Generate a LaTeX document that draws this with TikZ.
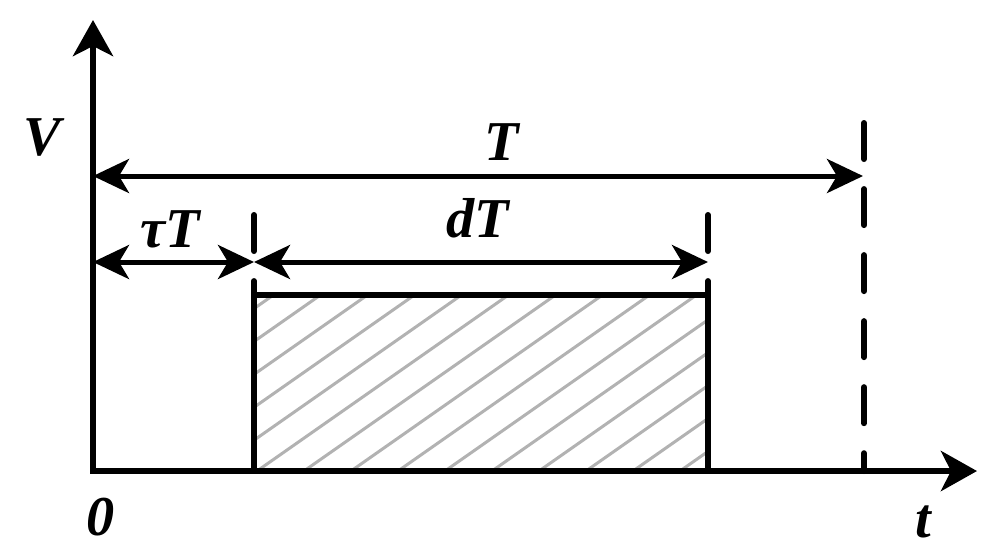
\documentclass[tikz,border=0pt]{standalone}
\usepackage{fontspec}
\setmainfont{Liberation Serif}
\usetikzlibrary{arrows.meta}

\begin{document}
\begin{tikzpicture}[x=0.01cm,y=-0.01cm,
  axis/.style={line width=0.06cm,{Stealth[length=0.36cm,width=0.4cm,inset=0.1cm]}-{Stealth[length=0.36cm,width=0.4cm,inset=0.1cm]}},
  dim/.style={line width=0.05cm,{Stealth[length=0.36cm,width=0.34cm,inset=0.1cm]}-{Stealth[length=0.36cm,width=0.34cm,inset=0.1cm]}},
  guide/.style={line width=0.06cm,line cap=round,dash pattern=on 0.36cm off 0.30cm},
  pulse/.style={line width=0.06cm},
  hatch/.style={line width=0.03cm,gray!60},
  lbl/.style={font=\fontsize{16}{18}\selectfont\bfseries\itshape,anchor=base,inner sep=0pt}]

\useasboundingbox (0,0) rectangle (1000,556);

% axes
\coordinate (origin) at (93,471);
\coordinate (ytop) at (93,20);
\coordinate (xend) at (977,471);
% pulse corners
\coordinate (rise) at (254,471);
\coordinate (risetop) at (254,295);
\coordinate (fall) at (708,471);
\coordinate (falltop) at (708,295);
% period mark
\coordinate (pertop) at (864,123);
\coordinate (perbot) at (864,471);

% hatched pulse
\begin{scope}
  \clip (rise) rectangle (falltop);
  \foreach \s in {22,69,...,720}
    \draw[hatch] (\s,471) -- ++(250,-175);
\end{scope}
\draw[pulse] (rise) -- (risetop) -- (falltop) -- (fall);

% dashed guides
\draw[guide] (254,215) -- (risetop);
\draw[guide] (708,215) -- (falltop);
\draw[guide] (pertop) -- (perbot);

\draw[axis] (ytop) -- (origin) -- (xend);

% dimension arrows
\coordinate (yT) at (93,176);
\coordinate (perT) at (863,176);
\coordinate (ytau) at (93,262);
\coordinate (mid) at (254,262);
\coordinate (enddT) at (708,262);
\draw[dim] (yT) -- (perT);
\draw[dim] (ytau) -- (mid);
\draw[dim] (mid) -- (enddT);

% labels
\node[lbl] (vlab) at (42,155) {V};
\node[lbl] (Tlab) at (502,160) {T};
\node[lbl] (taulab) at (170,247) {τT};
\node[lbl] (dlab) at (478,237) {dT};
\node[lbl] (zerolab) at (101,535) {0};
\node[lbl] (tlab) at (923,537) {t};
\end{tikzpicture}
\end{document}
